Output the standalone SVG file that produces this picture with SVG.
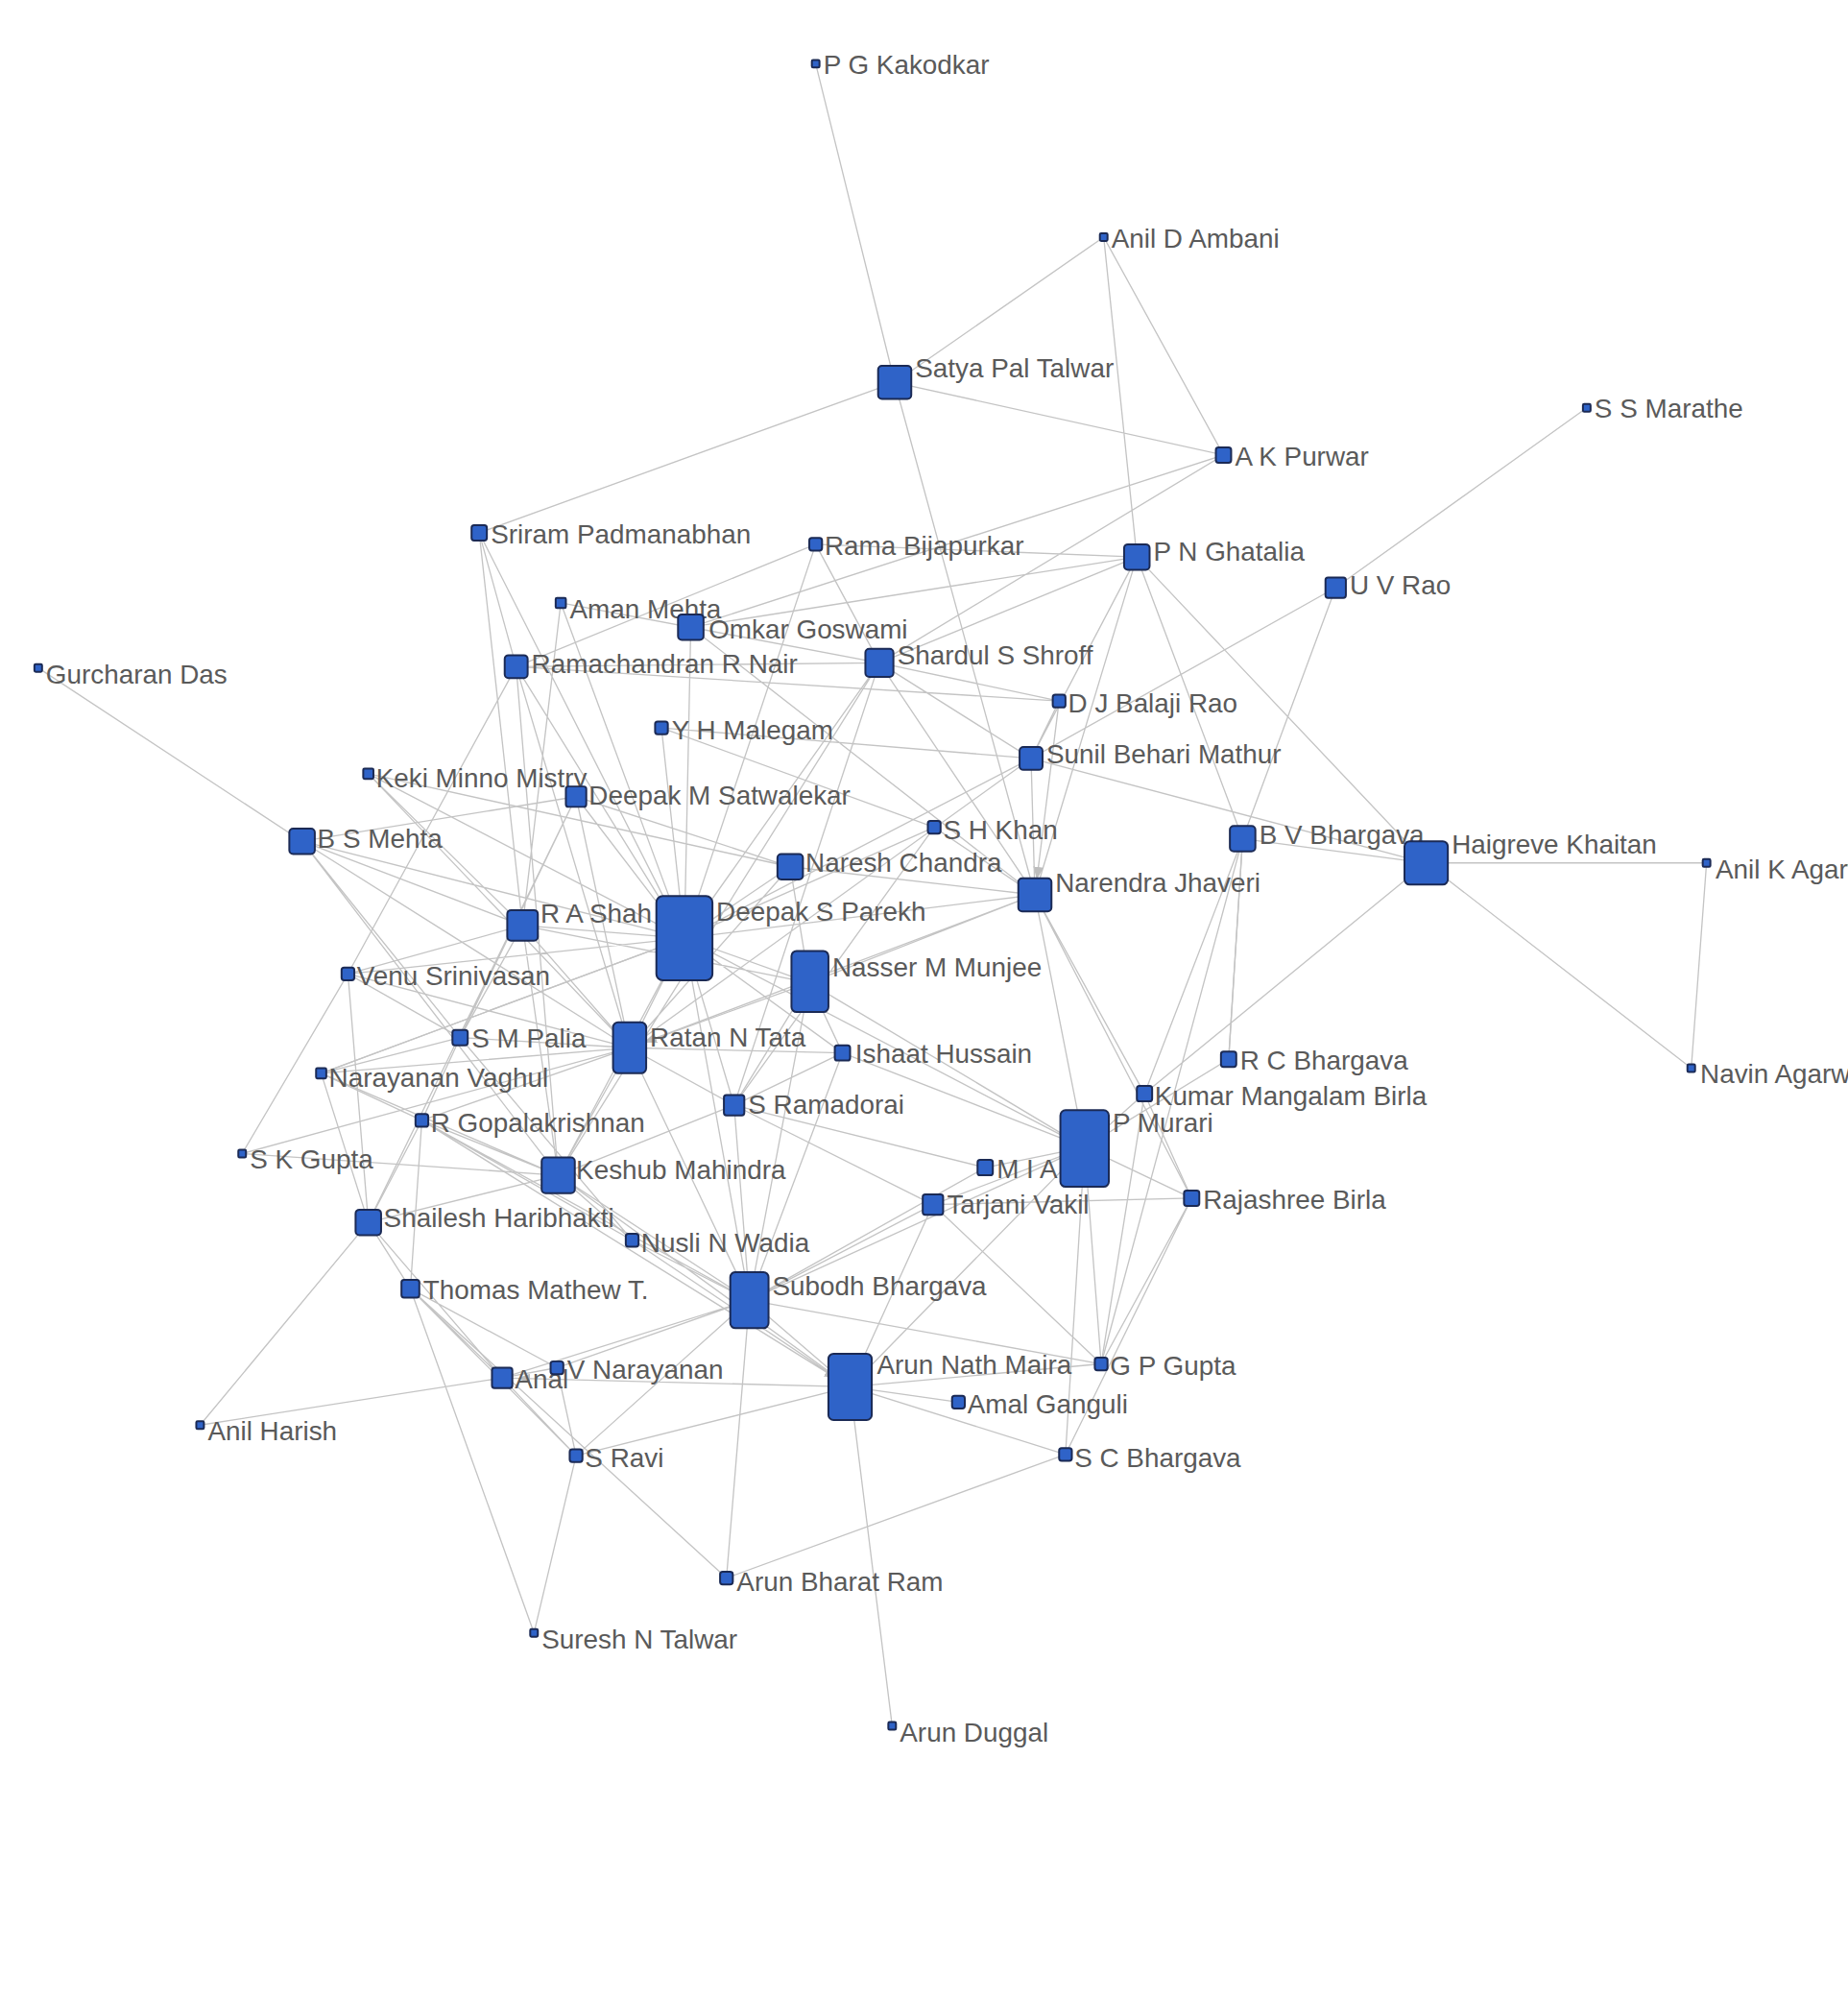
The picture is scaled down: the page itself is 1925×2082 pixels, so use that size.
<svg xmlns="http://www.w3.org/2000/svg" width="1925" height="2082" viewBox="0 0 1925 2082">
<style>
.e{stroke:#c4c4c4;stroke-width:1;fill:none;marker-end:url(#a)}
.n{fill:#2f63c8;stroke:#1b2a55;stroke-width:1.5}
.t{font-family:"Liberation Sans",Arial,sans-serif;font-size:21px;fill:#5a5a5a}
</style>
<defs>
<marker id="a" markerWidth="10" markerHeight="8" refX="22" refY="4" orient="auto" markerUnits="userSpaceOnUse"><path d="M0,0 L10,4 L0,8 z" fill="#bdbdbd"/></marker>
</defs>
<rect width="1925" height="2082" fill="#fff"/>
<g transform="scale(1.3276)">
<g id="connectors">
<path class="e" d="M640,50L702,300M702,300L866,186M702,300L960,357M866,186L960,357M866,186L892,437M1048,461L1245,320M30,524L237,660M1119,677L1339,677M1119,677L1327,838M1339,677L1327,838M1119,677L892,437M1119,677L975,658M1119,677L898,858M1119,677L809,595M1048,461L975,658M1048,461L809,595M960,357L690,520M960,357L542,492M892,437L690,520M892,437L640,427M892,437L809,595M892,437L975,658M892,437L812,702M892,437L542,492M702,300L812,702M376,418L702,300M975,658L964,831M975,658L898,858M975,658L864,1070M700,1354L667,1088M667,1088L836,1141M570,1238L836,1141M419,1281L322,1011M419,1281L452,1142M157,1118L289,959M157,1118L394,1081M190,905L273,764M190,905L494,822M190,905L438,922M570,1238L588,1020M570,1238L322,1011M831,550L809,595M831,550L812,702"/>
<path class="e" d="M237,660L537,736M237,660L410,726M237,660L494,822M237,660L438,922M237,660L452,625M237,660L361,814M289,607L537,736M289,607L494,822M289,607L620,680M289,607L410,726M376,418L405,523M376,418L410,726M376,418L537,736M440,473L410,726M440,473L537,736M440,473L690,520M542,492L690,520M542,492L537,736M542,492L812,702M640,427L690,520M640,427L537,736M640,427L405,523M405,523L690,520M405,523L537,736M405,523L494,822M405,523L438,922M405,523L831,550M519,571L537,736M519,571L733,649M519,571L809,595M452,625L537,736M452,625L494,822M452,625L620,680M452,625L289,959M452,625L361,814M690,520L537,736M690,520L812,702M690,520L831,550M690,520L809,595M690,520L438,922M690,520L576,867M809,595L537,736M809,595L494,822M809,595L812,702M733,649L812,702M733,649L537,736M733,649L576,867M620,680L537,736M620,680L812,702M620,680L635,771M620,680L494,822M812,702L537,736M812,702L851,900M812,702L898,858M812,702L935,940M812,702L635,771M812,702L494,822"/>
<path class="e" d="M537,736L635,771M537,736L494,822M537,736L410,726M537,736L576,867M537,736L438,922M537,736L588,1020M537,736L851,900M537,736L252,842M537,736L273,764M537,736L661,826M410,726L494,822M410,726L273,764M410,726L361,814M410,726L438,922M410,726L635,771M635,771L494,822M635,771L661,826M635,771L576,867M635,771L851,900M635,771L588,1020M494,822L361,814M494,822L252,842M494,822L331,879M494,822L576,867M494,822L438,922M494,822L588,1020M494,822L273,764M494,822L661,826M576,867L661,826M576,867L438,922M576,867L588,1020M576,867L732,945M576,867L773,916M438,922L289,959M438,922L496,973M438,922L588,1020M438,922L667,1088M438,922L331,879M438,922L252,842M588,1020L496,973M588,1020L667,1088M588,1020L732,945M588,1020L394,1081M588,1020L437,1073M588,1020L452,1142M588,1020L851,900M588,1020L864,1070M667,1088L851,900M667,1088L752,1100M667,1088L864,1070M667,1088L452,1142M667,1088L732,945M667,1088L394,1081"/>
<path class="e" d="M851,900L935,940M851,900L898,858M851,900L864,1070M851,900L964,831M851,900L732,945M851,900L773,916M851,900L836,1141M732,945L935,940M732,945L864,1070M864,1070L935,940M864,1070L898,858M836,1141L935,940M964,831L975,658M898,858L935,940M289,959L331,879M289,959L322,1011M289,959L394,1081M289,959L273,764M322,1011L394,1081M322,1011L437,1073M322,1011L452,1142M322,1011L331,879M394,1081L452,1142M394,1081L437,1073M437,1073L452,1142M331,879L361,814M331,879L496,973M331,879L588,1020M252,842L361,814M252,842L331,879M252,842L289,959M273,764L361,814M273,764L405,523M361,814L496,973M661,826L588,1020M661,826L851,900M773,916L588,1020M496,973L667,1088M252,842L537,736M331,879L667,1088"/>
</g>
<g id="labels-nodes">
<g id="n-pgk"><rect class="n" x="637" y="47" width="6" height="6" rx="1"/><text class="t" x="646" y="58">P G Kakodkar</text></g>
<g id="n-ada"><rect class="n" x="863" y="183" width="6" height="6" rx="1"/><text class="t" x="872" y="194">Anil D Ambani</text></g>
<g id="n-spt"><rect class="n" x="689" y="287" width="26" height="26" rx="3"/><text class="t" x="718" y="296">Satya Pal Talwar</text></g>
<g id="n-ssm"><rect class="n" x="1242" y="317" width="6" height="6" rx="1"/><text class="t" x="1251" y="328">S S Marathe</text></g>
<g id="n-akp"><rect class="n" x="954" y="351" width="12" height="12" rx="2"/><text class="t" x="969" y="365">A K Purwar</text></g>
<g id="n-sp"><rect class="n" x="370" y="412" width="12" height="12" rx="2"/><text class="t" x="385" y="426">Sriram Padmanabhan</text></g>
<g id="n-rb"><rect class="n" x="635" y="422" width="10" height="10" rx="2"/><text class="t" x="647" y="435">Rama Bijapurkar</text></g>
<g id="n-png"><rect class="n" x="882" y="427" width="20" height="20" rx="3"/><text class="t" x="905" y="440">P N Ghatalia</text></g>
<g id="n-uv"><rect class="n" x="1040" y="453" width="16" height="16" rx="2"/><text class="t" x="1059" y="466">U V Rao</text></g>
<g id="n-am"><rect class="n" x="436" y="469" width="8" height="8" rx="1"/><text class="t" x="447" y="485">Aman Mehta</text></g>
<g id="n-og"><rect class="n" x="532" y="482" width="20" height="20" rx="3"/><text class="t" x="556" y="501">Omkar Goswami</text></g>
<g id="n-rrn"><rect class="n" x="396" y="514" width="18" height="18" rx="3"/><text class="t" x="417" y="528">Ramachandran R Nair</text></g>
<g id="n-sss"><rect class="n" x="679" y="509" width="22" height="22" rx="3"/><text class="t" x="704" y="521">Shardul S Shroff</text></g>
<g id="n-gd"><rect class="n" x="27" y="521" width="6" height="6" rx="1"/><text class="t" x="36" y="536">Gurcharan Das</text></g>
<g id="n-dj"><rect class="n" x="826" y="545" width="10" height="10" rx="2"/><text class="t" x="838" y="559">D J Balaji Rao</text></g>
<g id="n-yhm"><rect class="n" x="514" y="566" width="10" height="10" rx="2"/><text class="t" x="527" y="580">Y H Malegam</text></g>
<g id="n-sbm"><rect class="n" x="800" y="586" width="18" height="18" rx="3"/><text class="t" x="821" y="599">Sunil Behari Mathur</text></g>
<g id="n-kmm"><rect class="n" x="285" y="603" width="8" height="8" rx="1"/><text class="t" x="295" y="618">Keki Minno Mistry</text></g>
<g id="n-dms"><rect class="n" x="444" y="617" width="16" height="16" rx="2"/><text class="t" x="462" y="631">Deepak M Satwalekar</text></g>
<g id="n-shk"><rect class="n" x="728" y="644" width="10" height="10" rx="2"/><text class="t" x="740" y="658">S H Khan</text></g>
<g id="n-bvb"><rect class="n" x="965" y="648" width="20" height="20" rx="3"/><text class="t" x="988" y="662">B V Bhargava</text></g>
<g id="n-bsm"><rect class="n" x="227" y="650" width="20" height="20" rx="3"/><text class="t" x="249" y="665">B S Mehta</text></g>
<g id="n-nc"><rect class="n" x="610" y="670" width="20" height="20" rx="3"/><text class="t" x="632" y="684">Naresh Chandra</text></g>
<g id="n-akag"><rect class="n" x="1336" y="674" width="6" height="6" rx="1"/><text class="t" x="1346" y="689">Anil K Agarwal</text></g>
<g id="n-nj"><rect class="n" x="799" y="689" width="26" height="26" rx="3"/><text class="t" x="828" y="700">Narendra Jhaveri</text></g>
<g id="n-ras"><rect class="n" x="398" y="714" width="24" height="24" rx="3"/><text class="t" x="424" y="724">R A Shah</text></g>
<g id="n-venu"><rect class="n" x="268" y="759" width="10" height="10" rx="2"/><text class="t" x="280" y="773">Venu Srinivasan</text></g>
<g id="n-smp"><rect class="n" x="355" y="808" width="12" height="12" rx="2"/><text class="t" x="370" y="822">S M Palia</text></g>
<g id="n-ih"><rect class="n" x="655" y="820" width="12" height="12" rx="2"/><text class="t" x="671" y="834">Ishaat Hussain</text></g>
<g id="n-rcb"><rect class="n" x="958" y="825" width="12" height="12" rx="2"/><text class="t" x="973" y="839">R C Bhargava</text></g>
<g id="n-navin"><rect class="n" x="1324" y="835" width="6" height="6" rx="1"/><text class="t" x="1334" y="850">Navin Agarwal</text></g>
<g id="n-nv"><rect class="n" x="248" y="838" width="8" height="8" rx="1"/><text class="t" x="258" y="853">Narayanan Vaghul</text></g>
<g id="n-kmb"><rect class="n" x="892" y="852" width="12" height="12" rx="2"/><text class="t" x="906" y="867">Kumar Mangalam Birla</text></g>
<g id="n-sr"><rect class="n" x="568" y="859" width="16" height="16" rx="2"/><text class="t" x="587" y="874">S Ramadorai</text></g>
<g id="n-rg"><rect class="n" x="326" y="874" width="10" height="10" rx="2"/><text class="t" x="338" y="888">R Gopalakrishnan</text></g>
<g id="n-skg"><rect class="n" x="187" y="902" width="6" height="6" rx="1"/><text class="t" x="196" y="917">S K Gupta</text></g>
<g id="n-mia"><rect class="n" x="767" y="910" width="12" height="12" rx="2"/><text class="t" x="782" y="924">M I  A</text></g>
<g id="n-tv"><rect class="n" x="724" y="937" width="16" height="16" rx="2"/><text class="t" x="743" y="952">Tarjani Vakil</text></g>
<g id="n-rjb"><rect class="n" x="929" y="934" width="12" height="12" rx="2"/><text class="t" x="944" y="948">Rajashree Birla</text></g>
<g id="n-sh"><rect class="n" x="279" y="949" width="20" height="20" rx="3"/><text class="t" x="301" y="963">Shailesh Haribhakti</text></g>
<g id="n-nw"><rect class="n" x="491" y="968" width="10" height="10" rx="2"/><text class="t" x="503" y="982">Nusli N Wadia</text></g>
<g id="n-tm"><rect class="n" x="315" y="1004" width="14" height="14" rx="2"/><text class="t" x="332" y="1019">Thomas Mathew T.</text></g>
<g id="n-gpg"><rect class="n" x="859" y="1065" width="10" height="10" rx="2"/><text class="t" x="871" y="1079">G P Gupta</text></g>
<g id="n-an"><rect class="n" x="386" y="1073" width="16" height="16" rx="2"/><text class="t" x="404" y="1089">Anal</text></g>
<g id="n-vn"><rect class="n" x="432" y="1068" width="10" height="10" rx="2"/><text class="t" x="445" y="1082">V Narayanan</text></g>
<g id="n-ag"><rect class="n" x="747" y="1095" width="10" height="10" rx="2"/><text class="t" x="759" y="1109">Amal Ganguli</text></g>
<g id="n-ah"><rect class="n" x="154" y="1115" width="6" height="6" rx="1"/><text class="t" x="163" y="1130">Anil Harish</text></g>
<g id="n-srv"><rect class="n" x="447" y="1137" width="10" height="10" rx="2"/><text class="t" x="459" y="1151">S Ravi</text></g>
<g id="n-scb"><rect class="n" x="831" y="1136" width="10" height="10" rx="2"/><text class="t" x="843" y="1151">S C Bhargava</text></g>
<g id="n-abr"><rect class="n" x="565" y="1233" width="10" height="10" rx="2"/><text class="t" x="578" y="1248">Arun Bharat Ram</text></g>
<g id="n-snt"><rect class="n" x="416" y="1278" width="6" height="6" rx="1"/><text class="t" x="425" y="1293">Suresh N Talwar</text></g>
<g id="n-ad"><rect class="n" x="697" y="1351" width="6" height="6" rx="1"/><text class="t" x="706" y="1366">Arun Duggal</text></g>
<g id="n-hk"><rect class="n" x="1102" y="660" width="34" height="34" rx="4"/><text class="t" x="1139" y="670">Haigreve Khaitan</text></g>
<g id="n-nmm"><rect class="n" x="621" y="746" width="29" height="48" rx="4"/><text class="t" x="653" y="766">Nasser M Munjee</text></g>
<g id="n-rnt"><rect class="n" x="481" y="802" width="26" height="40" rx="4"/><text class="t" x="510" y="821">Ratan N Tata</text></g>
<g id="n-km"><rect class="n" x="425" y="908" width="26" height="28" rx="3"/><text class="t" x="452" y="925">Keshub Mahindra</text></g>
<g id="n-sb"><rect class="n" x="573" y="998" width="30" height="44" rx="4"/><text class="t" x="606" y="1016">Subodh Bhargava</text></g>
<g id="n-anm"><rect class="n" x="650" y="1062" width="34" height="52" rx="4"/><text class="t" x="688" y="1078">Arun Nath Maira</text></g>
<g id="n-pm"><rect class="n" x="832" y="871" width="38" height="60" rx="4"/><text class="t" x="873" y="888">P Murari</text></g>
<g id="n-dsp"><rect class="n" x="515" y="703" width="44" height="66" rx="5"/><text class="t" x="562" y="722">Deepak S Parekh</text></g>
</g>
</g>
</svg>
